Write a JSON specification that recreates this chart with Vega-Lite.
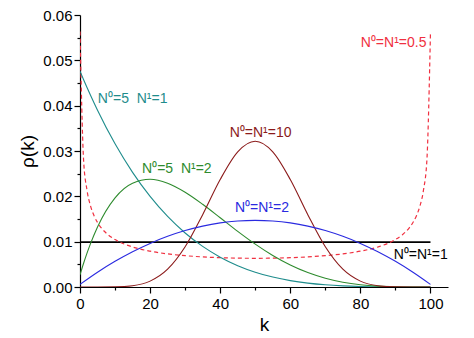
{
  "$schema": "https://vega.github.io/schema/vega-lite/v6.json",
  "width": 368,
  "height": 272,
  "autosize": {"type": "none"},
  "padding": {"left": 80, "top": 15, "right": 26, "bottom": 51},
  "background": "white",
  "config": {
    "view": {"stroke": null},
    "font": "Liberation Sans",
    "axis": {"grid": false, "domainColor": "#000", "tickColor": "#000", "labelColor": "#000", "titleColor": "#000", "domainWidth": 1.2, "tickWidth": 1.2, "labelFont": "Liberation Sans", "titleFont": "Liberation Sans", "titleFontWeight": "normal", "labelOverlap": false, "labelFlush": false}
  },
  "datasets": {
    "solid": [
      {"k": 0, "rho": 0.047619, "series": "t51"}, {"k": 1, "rho": 0.045788, "series": "t51"}, {"k": 2, "rho": 0.04401, "series": "t51"}, {"k": 3, "rho": 0.042284, "series": "t51"},
      {"k": 5, "rho": 0.038984, "series": "t51"}, {"k": 10, "rho": 0.031581, "series": "t51"}, {"k": 15, "rho": 0.025286, "series": "t51"}, {"k": 20, "rho": 0.019982, "series": "t51"},
      {"k": 25, "rho": 0.01556, "series": "t51"}, {"k": 30, "rho": 0.011916, "series": "t51"}, {"k": 35, "rho": 0.008953, "series": "t51"}, {"k": 40, "rho": 0.00658, "series": "t51"},
      {"k": 45, "rho": 0.004713, "series": "t51"}, {"k": 50, "rho": 0.003275, "series": "t51"}, {"k": 55, "rho": 0.002194, "series": "t51"}, {"k": 60, "rho": 0.001406, "series": "t51"},
      {"k": 65, "rho": 0.000852, "series": "t51"}, {"k": 70, "rho": 0.00048, "series": "t51"}, {"k": 75, "rho": 0.000246, "series": "t51"}, {"k": 80, "rho": 0.00011, "series": "t51"},
      {"k": 85, "rho": 0.00004, "series": "t51"}, {"k": 90, "rho": 0.00001, "series": "t51"}, {"k": 95, "rho": 0.000001, "series": "t51"}, {"k": 100, "rho": 0, "series": "t51"},

      {"k": 0, "rho": 0.002695, "series": "g52"}, {"k": 1, "rho": 0.005184, "series": "g52"}, {"k": 2, "rho": 0.007473, "series": "g52"}, {"k": 3, "rho": 0.009574, "series": "g52"},
      {"k": 5, "rho": 0.01324, "series": "g52"}, {"k": 10, "rho": 0.019663, "series": "g52"}, {"k": 15, "rho": 0.022901, "series": "g52"}, {"k": 20, "rho": 0.023752, "series": "g52"},
      {"k": 25, "rho": 0.0229, "series": "g52"}, {"k": 30, "rho": 0.020909, "series": "g52"}, {"k": 35, "rho": 0.018244, "series": "g52"}, {"k": 40, "rho": 0.015271, "series": "g52"},
      {"k": 45, "rho": 0.012272, "series": "g52"}, {"k": 50, "rho": 0.009454, "series": "g52"}, {"k": 55, "rho": 0.006955, "series": "g52"}, {"k": 60, "rho": 0.004855, "series": "g52"},
      {"k": 65, "rho": 0.003183, "series": "g52"}, {"k": 70, "rho": 0.00193, "series": "g52"}, {"k": 75, "rho": 0.001058, "series": "g52"}, {"k": 80, "rho": 0.000505, "series": "g52"},
      {"k": 85, "rho": 0.000195, "series": "g52"}, {"k": 90, "rho": 0.000054, "series": "g52"}, {"k": 95, "rho": 0.000007, "series": "g52"}, {"k": 100, "rho": 0, "series": "g52"},

      {"k": 0, "rho": 0, "series": "a10"}, {"k": 5, "rho": 0.000001, "series": "a10"}, {"k": 10, "rho": 0.0000326, "series": "a10"}, {"k": 15, "rho": 0.000283, "series": "a10"},
      {"k": 20, "rho": 0.001296, "series": "a10"}, {"k": 25, "rho": 0.003932, "series": "a10"}, {"k": 30, "rho": 0.008881, "series": "a10"}, {"k": 35, "rho": 0.015951, "series": "a10"},
      {"k": 40, "rho": 0.02371, "series": "a10"}, {"k": 45, "rho": 0.02982, "series": "a10"}, {"k": 50, "rho": 0.03215, "series": "a10"}, {"k": 55, "rho": 0.02982, "series": "a10"},
      {"k": 60, "rho": 0.02371, "series": "a10"}, {"k": 65, "rho": 0.015951, "series": "a10"}, {"k": 70, "rho": 0.008881, "series": "a10"}, {"k": 75, "rho": 0.003932, "series": "a10"},
      {"k": 80, "rho": 0.001296, "series": "a10"}, {"k": 85, "rho": 0.000283, "series": "a10"}, {"k": 90, "rho": 0.0000326, "series": "a10"}, {"k": 95, "rho": 0.000001, "series": "a10"},
      {"k": 100, "rho": 0, "series": "a10"},

      {"k": 0, "rho": 0.000571, "series": "a2"}, {"k": 5, "rho": 0.003257, "series": "a2"}, {"k": 10, "rho": 0.00566, "series": "a2"}, {"k": 15, "rho": 0.007781, "series": "a2"},
      {"k": 20, "rho": 0.009618, "series": "a2"}, {"k": 25, "rho": 0.011173, "series": "a2"}, {"k": 30, "rho": 0.012446, "series": "a2"}, {"k": 35, "rho": 0.013435, "series": "a2"},
      {"k": 40, "rho": 0.014142, "series": "a2"}, {"k": 45, "rho": 0.014566, "series": "a2"}, {"k": 50, "rho": 0.014707, "series": "a2"}, {"k": 55, "rho": 0.014566, "series": "a2"},
      {"k": 60, "rho": 0.014142, "series": "a2"}, {"k": 65, "rho": 0.013435, "series": "a2"}, {"k": 70, "rho": 0.012446, "series": "a2"}, {"k": 75, "rho": 0.011173, "series": "a2"},
      {"k": 80, "rho": 0.009618, "series": "a2"}, {"k": 85, "rho": 0.007781, "series": "a2"}, {"k": 90, "rho": 0.00566, "series": "a2"}, {"k": 95, "rho": 0.003257, "series": "a2"},
      {"k": 100, "rho": 0.000571, "series": "a2"}
    ],
    "dashed": [
      {"k": 0, "rho": 0.05635}, {"k": 1, "rho": 0.02832}, {"k": 2, "rho": 0.02135}, {"k": 3, "rho": 0.01788}, {"k": 4, "rho": 0.01573},
      {"k": 5, "rho": 0.01423}, {"k": 6, "rho": 0.01311}, {"k": 8, "rho": 0.01154}, {"k": 10, "rho": 0.01047}, {"k": 15, "rho": 0.00883},
      {"k": 20, "rho": 0.0079}, {"k": 25, "rho": 0.0073}, {"k": 30, "rho": 0.00691}, {"k": 35, "rho": 0.00664}, {"k": 40, "rho": 0.00646},
      {"k": 45, "rho": 0.00637}, {"k": 50, "rho": 0.00633}, {"k": 55, "rho": 0.00637}, {"k": 60, "rho": 0.00646}, {"k": 65, "rho": 0.00664},
      {"k": 70, "rho": 0.00691}, {"k": 75, "rho": 0.0073}, {"k": 80, "rho": 0.0079}, {"k": 85, "rho": 0.00883}, {"k": 90, "rho": 0.01047},
      {"k": 92, "rho": 0.01154}, {"k": 94, "rho": 0.01311}, {"k": 95, "rho": 0.01423}, {"k": 96, "rho": 0.01573}, {"k": 97, "rho": 0.01788},
      {"k": 98, "rho": 0.02135}, {"k": 99, "rho": 0.02832}, {"k": 100, "rho": 0.05635}
    ],
    "flat": [
      {"k": 0, "rho": 0.009901}, {"k": 100, "rho": 0.009901}
    ],
    "labels": [
      {"k": 5.1, "rho": 0.0415, "label": "N⁰=5 \u00a0N¹=1", "series": "t51"},
      {"k": 17.7, "rho": 0.026, "label": "N⁰=5 \u00a0N¹=2", "series": "g52"},
      {"k": 42.7, "rho": 0.034, "label": "N⁰=N¹=10", "series": "a10"},
      {"k": 44.2, "rho": 0.0174, "label": "N⁰=N¹=2", "series": "a2"},
      {"k": 89.5, "rho": 0.0071, "label": "N⁰=N¹=1", "series": "a1"},
      {"k": 80.1, "rho": 0.0538, "label": "N⁰=N¹=0.5", "series": "a05"}
    ]
  },
  "encoding": {
    "x": {
      "field": "k", "type": "quantitative",
      "scale": {"domain": [0, 105], "nice": false, "zero": false},
      "axis": {
        "values": [0, 10, 20, 30, 40, 50, 60, 70, 80, 90, 100],
        "format": "d",
        "labelExpr": "datum.value % 20 == 0 ? datum.label : ''",
        "tickSize": {"condition": {"test": "datum.value % 20 != 0", "value": 3}, "value": 6},
        "labelFontSize": 15, "labelPadding": 3,
        "title": "k", "titleFontSize": 19, "titleY": 37, "titleBaseline": "middle"
      }
    },
    "y": {
      "field": "rho", "type": "quantitative",
      "scale": {"domain": [0, 0.06], "nice": false},
      "axis": {
        "values": [0, 0.005, 0.01, 0.015, 0.02, 0.025, 0.03, 0.035, 0.04, 0.045, 0.05, 0.055, 0.06],
        "format": ".2f",
        "labelExpr": "round(datum.value * 1000) % 10 == 0 ? datum.label : ''",
        "tickSize": {"condition": {"test": "round(datum.value * 1000) % 10 != 0", "value": 3}, "value": 6},
        "labelFontSize": 15, "labelPadding": 2,
        "title": "ρ(k)", "titleFontSize": 19, "titleX": -53, "titleY": 136, "titleAngle": 270, "titleAlign": "center", "titleBaseline": "middle"
      }
    }
  },
  "layer": [
    {
      "data": {"name": "flat"},
      "mark": {"type": "line", "color": "#000000", "strokeWidth": 1.8},
      "encoding": {}
    },
    {
      "data": {"name": "dashed"},
      "mark": {"type": "line", "interpolate": "monotone", "color": "#f03040", "strokeWidth": 1.2, "strokeDash": [4, 3], "clip": true},
      "encoding": {}
    },
    {
      "data": {"name": "solid"},
      "mark": {"type": "line", "interpolate": "monotone", "strokeWidth": 1.1, "clip": true},
      "encoding": {
        "color": {"field": "series", "type": "nominal", "legend": null,
          "scale": {"domain": ["t51", "g52", "a10", "a2", "a1", "a05"], "range": ["#1e8c8c", "#2e8b2e", "#8b1a1a", "#2a2ae0", "#000000", "#f03040"]}}
      }
    },
    {
      "data": {"name": "labels"},
      "mark": {"type": "text", "align": "left", "baseline": "middle", "fontSize": 14, "font": "Liberation Sans"},
      "encoding": {
        "text": {"field": "label", "type": "nominal"},
        "color": {"field": "series", "type": "nominal", "legend": null,
          "scale": {"domain": ["t51", "g52", "a10", "a2", "a1", "a05"], "range": ["#1e8c8c", "#2e8b2e", "#8b1a1a", "#2a2ae0", "#000000", "#f03040"]}}
      }
    }
  ]
}
